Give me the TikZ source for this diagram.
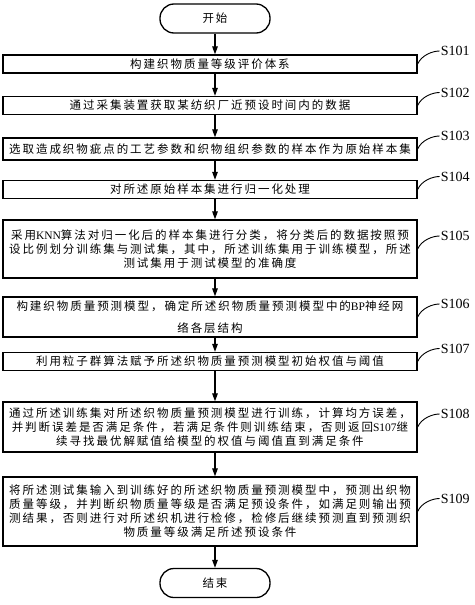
\documentclass[tikz,border=0pt]{standalone}
\usepackage{fontspec}
\setmainfont{Liberation Serif}
\newfontfamily\cjk[LetterSpace=17]{Noto Sans CJK SC}
\newcommand{\tnr}[1]{{\rmfamily #1}}
\usetikzlibrary{arrows.meta}
\begin{document}
\begin{tikzpicture}[x=1pt,y=-1pt,>={Triangle[length=8pt,width=5.5pt]},
  stepbox/.style={draw,line width=1.3pt,minimum width=414,minimum height=18,inner sep=2pt,align=center,font=\cjk\fontsize{11.5}{14}\selectfont},
  termbox/.style={draw,line width=1.3pt,rounded corners=14pt,minimum width=110,minimum height=29,font=\cjk\fontsize{11.5}{14}\selectfont},
  steplabel/.style={inner sep=1pt,anchor=west,font=\fontsize{14}{16}\selectfont}]
\useasboundingbox (0,0) rectangle (474,605);
% Anfang und Ende
\node[termbox] (start) at (215,18.5) {开始};
\node[termbox] (end) at (215,583) {结束};
% Schritte S101 bis S109
\node[stepbox] (s1) at (210,64) {构建织物质量等级评价体系};
\node[stepbox] (s2) at (210,105.5) {通过采集装置获取某纺织厂近预设时间内的数据};
\node[stepbox,minimum height=22] (s3) at (210,149) {选取造成织物疵点的工艺参数和织物组织参数的样本作为原始样本集};
\node[stepbox] (s4) at (210,189.5) {对所述原始样本集进行归一化处理};
\node[stepbox,minimum height=58] (s5) at (210,249) {采用\tnr{KNN}算法对归一化后的样本集进行分类，将分类后的数据按照预\\设比例划分训练集与测试集，其中，所述训练集用于训练模型，所述\\测试集用于测试模型的准确度};
\node[stepbox,minimum height=40,font=\cjk\fontsize{11.5}{22}\selectfont] (s6) at (210,317) {构建织物质量预测模型，确定所述织物质量预测模型中的\tnr{BP}神经网\\络各层结构};
\node[stepbox] (s7) at (210,361.5) {利用粒子群算法赋予所述织物质量预测模型初始权值与阈值};
\node[stepbox,minimum height=50] (s8) at (210,427) {通过所述训练集对所述织物质量预测模型进行训练，计算均方误差，\\并判断误差是否满足条件，若满足条件则训练结束，否则返回\tnr{S107}继\\续寻找最优解赋值给模型的权值与阈值直到满足条件};
\node[stepbox,minimum height=69] (s9) at (210,511.5) {将所述测试集输入到训练好的所述织物质量预测模型中，预测出织物\\质量等级，并判断织物质量等级是否满足预设条件，如满足则输出预\\测结果，否则进行对所述织机进行检修，检修后继续预测直到预测织\\物质量等级满足所述预设条件};
% Pfeile
\draw[->,line width=1.2pt] (start.south) -- (start.south |- s1.north);
\foreach \a/\b in {s1/s2,s2/s3,s3/s4,s4/s5,s5/s6,s6/s7,s7/s8,s8/s9,s9/end}
  \draw[->,line width=1.2pt] (\a.south -| start) -- (\b.north -| start);
% Beschriftungen
\foreach \n in {1,...,9} {
  \node[steplabel] (l\n) at ([shift={(22,-13)}]s\n.east) {S10\n};
  \draw[line width=0.9pt] (s\n.east) .. controls +(4,-9) and +(-7,0) .. (l\n.west);
}
\end{tikzpicture}
\end{document}
